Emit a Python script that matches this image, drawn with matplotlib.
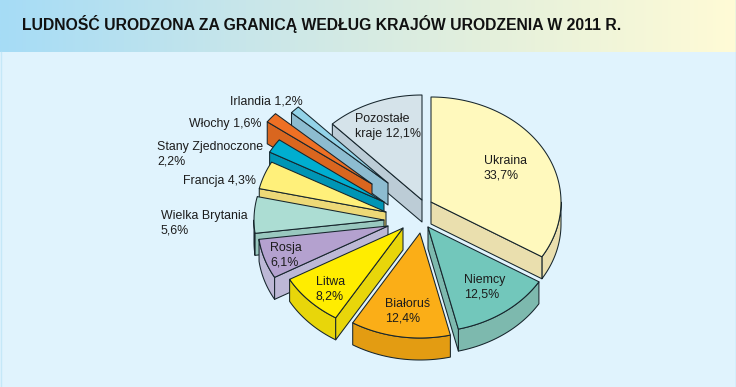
import numpy as np
import matplotlib
matplotlib.use("Agg")
import matplotlib.pyplot as plt
from matplotlib.patches import Polygon
from matplotlib.colors import LinearSegmentedColormap

plt.rcParams['font.family'] = ['Liberation Sans', 'DejaVu Sans']

title = "LUDNOŚĆ URODZONA ZA GRANICĄ WEDŁUG KRAJÓW URODZENIA W 2011 R."
categories = ["Ukraina", "Niemcy", "Białoruś", "Litwa", "Rosja", "Wielka Brytania",
              "Francja", "Stany Zjednoczone", "Włochy", "Irlandia", "Pozostałe\nkraje"]
values = [33.7, 12.5, 12.4, 8.2, 6.1, 5.6, 4.3, 2.2, 1.6, 1.2, 12.1]

top_colors = ["#FFF9BD", "#72C7BB", "#FBAE17", "#FFED00", "#B4A1CF", "#ACDDD3",
              "#FFF07A", "#00AED0", "#EE7024", "#93D3E8", "#D5E3EA"]
side_colors = ["#EADFAE", "#7DB9AE", "#E39C12", "#E8D60A", "#BDB8D6", "#99C8BF",
               "#EDD977", "#0095B5", "#D9661F", "#8DBCD0", "#BCCCD6"]

# exploded apex of each slice, pixels
apex_x = [431, 428, 420, 403, 388, 384, 386, 384, 372, 388, 422]
apex_y = [202, 227, 233, 228, 226, 220, 212, 202, 184, 183, 200]
# label anchors: (left x, centre y of first line)
label_x = [484, 464, 385, 316, 270, 161, 183, 157, 189, 230, 355]
label_y = [161, 280, 304, 282, 248, 216, 181, 147, 124, 101, 119]
label_oneline = [False, False, False, False, False, False, True, False, True, True, False]
draw_order = [10, 9, 8, 7, 6, 5, 4, 0, 1, 3, 2]

RX, RY, DEPTH = 130, 105, 22
EDGE = "#16252c"

fig = plt.figure(figsize=(7.36, 3.87), dpi=100)
ax = fig.add_axes([0, 0, 1, 1])
ax.set_xlim(0, 736)
ax.set_ylim(387, 0)
ax.axis("off")

ax.add_patch(plt.Rectangle((0, 0), 736, 387, fc="#E0F3FD", ec="none", zorder=0))
cmap = LinearSegmentedColormap.from_list("band", ["#A6DCF6", "#C8E6EA", "#E4F0DC", "#FFFBD6"])
ax.imshow(np.linspace(0, 1, 256).reshape(1, -1), extent=(0, 736, 52, 0), cmap=cmap,
          aspect="auto", zorder=1)
ax.set_xlim(0, 736)
ax.set_ylim(387, 0)
ax.plot([735.5, 735.5], [0, 387], color="#A6DCF6", lw=1, zorder=1)
ax.plot([0.5, 0.5], [52, 387], color="#C5E8F8", lw=1, zorder=1)

ax.text(22, 24, title, fontsize=11.33, fontweight="bold", color="#111111",
        va="center", ha="left", zorder=20)

edges = np.concatenate([[0], np.cumsum(values)]) / np.sum(values) * 2 * np.pi


def project(theta, ox, oy):
    return np.column_stack([ox + RX * np.sin(theta), oy - RY * np.cos(theta)])


z = 5
for i in draw_order:
    a0, a1 = edges[i], edges[i + 1]
    t = np.linspace(a0, a1, 80)
    ox, oy = apex_x[i], apex_y[i]
    arc = project(t, ox, oy)
    down = np.array([0, DEPTH])
    apex = np.array([ox, oy], dtype=float)
    kw = dict(ec=EDGE, lw=0.75, joinstyle="round", zorder=z)
    # outer wall: only the part that faces the viewer
    r0, r1 = max(a0, np.pi / 2), min(a1, 3 * np.pi / 2)
    if r1 > r0:
        r = project(np.linspace(r0, r1, 80), ox, oy)
        ax.add_patch(Polygon(np.vstack([r, (r + down)[::-1]]), closed=True,
                             fc=side_colors[i], **kw))
    # cut faces: only those turned downward
    if np.sin(a1) > 1e-6:
        ax.add_patch(Polygon(np.vstack([apex, arc[-1], arc[-1] + down, apex + down]),
                             closed=True, fc=side_colors[i], **kw))
    if np.sin(a0) < -1e-6:
        ax.add_patch(Polygon(np.vstack([apex, arc[0], arc[0] + down, apex + down]),
                             closed=True, fc=side_colors[i], **kw))
    ax.add_patch(Polygon(np.vstack([apex, arc]), closed=True, fc=top_colors[i], **kw))
    z += 1

for name, v, x, y, one in zip(categories, values, label_x, label_y, label_oneline):
    val = f"{v:.1f}".replace(".", ",") + "%"
    if "\n" in name:
        a, b = name.split("\n")
        lines = [a, f"{b} {val}"]
    elif one:
        lines = [f"{name} {val}"]
    else:
        lines = [name, val]
    for k, line in enumerate(lines):
        ax.text(x, y + k * 14.7, line, fontsize=8.9, color="#1c1c1c", va="center",
                ha="left", zorder=30)

fig.savefig("out.png", dpi=100)
